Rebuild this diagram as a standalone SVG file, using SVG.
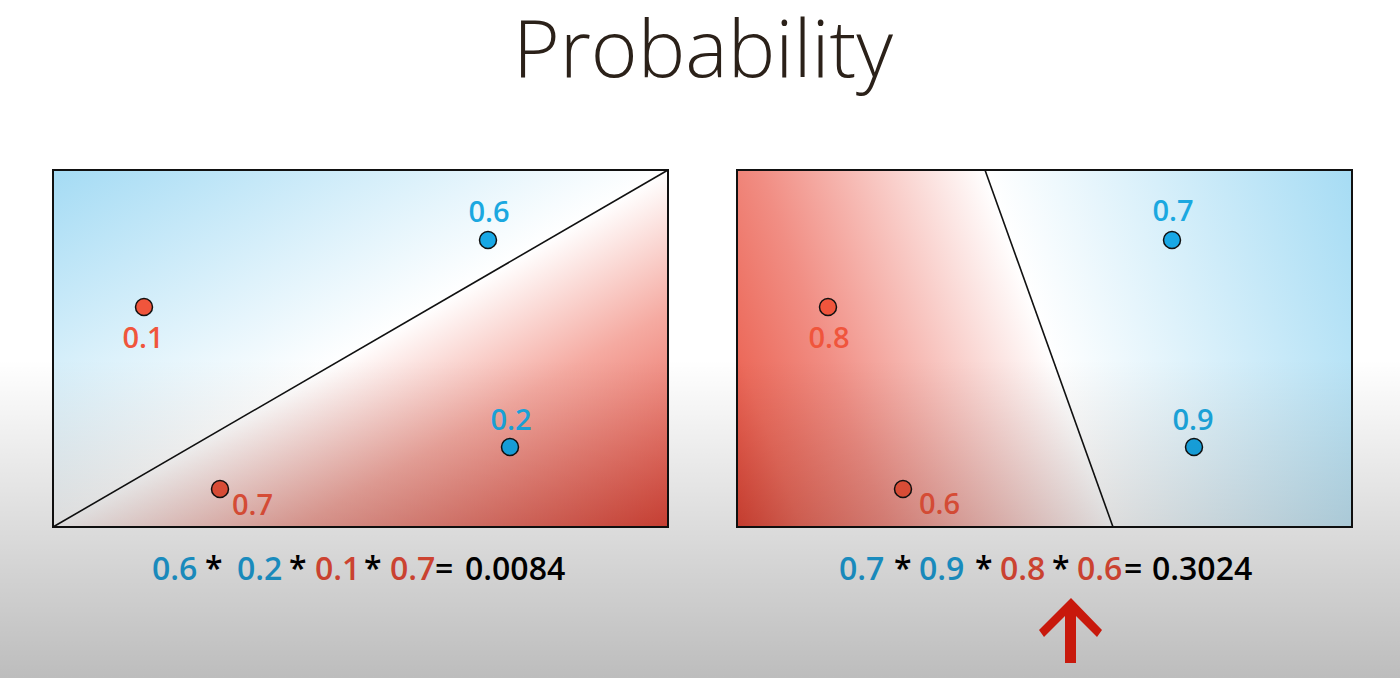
<svg xmlns="http://www.w3.org/2000/svg" width="1400" height="678" viewBox="0 0 1400 678">
<defs>
<linearGradient id="shade" x1="0" y1="0" x2="0" y2="678" gradientUnits="userSpaceOnUse">
<stop offset="0.53" stop-color="#000" stop-opacity="0"/>
<stop offset="1" stop-color="#000" stop-opacity="0.26"/>
</linearGradient>
<linearGradient id="lBlue" gradientUnits="userSpaceOnUse" x1="360.5" y1="348.5" x2="205.5" y2="81.5">
<stop offset="0" stop-color="#ffffff"/>
<stop offset="1" stop-color="#a4dbf4"/>
</linearGradient>
<linearGradient id="lRed" gradientUnits="userSpaceOnUse" x1="360.5" y1="348.5" x2="515.5" y2="615.5">
<stop offset="0" stop-color="#ffffff"/>
<stop offset="0.4" stop-color="#f5aaa1"/>
<stop offset="1" stop-color="#e4483a"/>
</linearGradient>
<linearGradient id="rRed" gradientUnits="userSpaceOnUse" x1="1048.5" y1="348.5" x2="716" y2="466.8">
<stop offset="0" stop-color="#ffffff"/>
<stop offset="0.6" stop-color="#f18e84"/>
<stop offset="0.83" stop-color="#ec6b5c"/>
<stop offset="1" stop-color="#e24636"/>
</linearGradient>
<linearGradient id="rBlue" gradientUnits="userSpaceOnUse" x1="1048.5" y1="348.5" x2="1374.5" y2="232.6">
<stop offset="0" stop-color="#ffffff"/>
<stop offset="1" stop-color="#a6dcf4"/>
</linearGradient>
<style>
.lbl{font-family:"Open Sans","Liberation Sans",sans-serif;font-size:29px;font-weight:600;}
.eq{font-family:"Open Sans","Liberation Sans",sans-serif;font-size:32px;font-weight:600;}
.b{fill:#1ba8e0;}
.r{fill:#f0553c;}
.eb{fill:#1ea6e2;}
.er{fill:#f4503a;}
.k{fill:#000;}
.dotb{fill:#18a8e6;stroke:#111;stroke-width:1.5;}
.dotr{fill:#f0553c;stroke:#111;stroke-width:1.5;}
.frame{fill:none;stroke:#111;stroke-width:2;}
.bound{stroke:#111;stroke-width:1.6;fill:none;}
</style>
</defs>
<rect width="1400" height="678" fill="#ffffff"/>
<text x="703" y="77" text-anchor="middle" font-family="'Open Sans','Liberation Sans',sans-serif" font-weight="300" font-size="80" fill="#2b2119">Probability</text>

<g id="left-panel">
<polygon points="53,170 668,170 53,527" fill="url(#lBlue)"/>
<polygon points="668,170 668,527 53,527" fill="url(#lRed)"/>
</g>
<g id="right-panel">
<polygon points="737,170 985,170 1113,527 737,527" fill="url(#rRed)"/>
<polygon points="985,170 1352,170 1352,527 1113,527" fill="url(#rBlue)"/>
</g>

<g id="boundaries">
<line class="bound" x1="53" y1="527" x2="668" y2="170"/>
<line class="bound" x1="985" y1="170" x2="1113" y2="527"/>
</g>

<g id="frames">
<rect class="frame" x="53" y="170" width="615" height="357"/>
<rect class="frame" x="737" y="170" width="615" height="357"/>
</g>

<g id="l-p06"><circle class="dotb" cx="488" cy="240" r="8.5"/><text class="lbl b" x="489" y="222" text-anchor="middle">0.6</text></g>
<g id="l-p01"><circle class="dotr" cx="144" cy="307" r="8.5"/><text class="lbl r" x="143" y="348" text-anchor="middle">0.1</text></g>
<g id="l-p02"><circle class="dotb" cx="510" cy="447" r="8.5"/><text class="lbl b" x="511" y="430" text-anchor="middle">0.2</text></g>
<g id="l-p07"><circle class="dotr" cx="220" cy="489" r="8.5"/><text class="lbl r" x="232" y="515">0.7</text></g>

<g id="r-p07"><circle class="dotb" cx="1172" cy="240" r="8.5"/><text class="lbl b" x="1173" y="221" text-anchor="middle">0.7</text></g>
<g id="r-p08"><circle class="dotr" cx="828" cy="307" r="8.5"/><text class="lbl r" x="829" y="348" text-anchor="middle">0.8</text></g>
<g id="r-p09"><circle class="dotb" cx="1194" cy="447" r="8.5"/><text class="lbl b" x="1193" y="430" text-anchor="middle">0.9</text></g>
<g id="r-p06"><circle class="dotr" cx="903" cy="489" r="8.5"/><text class="lbl r" x="919" y="514">0.6</text></g>

<g id="eq-left">
<text class="eq eb" x="152" y="580">0.6</text>
<text class="eq k" x="205" y="580">*</text>
<text class="eq eb" x="237" y="580">0.2</text>
<text class="eq k" x="289" y="580">*</text>
<text class="eq er" x="315" y="580">0.1</text>
<text class="eq k" x="364" y="580">*</text>
<text class="eq er" x="390" y="580">0.7</text>
<text class="eq k" x="435" y="580">=</text>
<text class="eq k" x="465" y="580">0.0084</text>
</g>
<g id="eq-right">
<text class="eq eb" x="839" y="580">0.7</text>
<text class="eq k" x="894" y="580">*</text>
<text class="eq eb" x="919" y="580">0.9</text>
<text class="eq k" x="975" y="580">*</text>
<text class="eq er" x="1000" y="580">0.8</text>
<text class="eq k" x="1052" y="580">*</text>
<text class="eq er" x="1077" y="580">0.6</text>
<text class="eq k" x="1124" y="580">=</text>
<text class="eq k" x="1152" y="580">0.3024</text>
</g>

<rect width="1400" height="678" fill="url(#shade)"/>

<g id="arrow">
<polygon points="1071,598 1102,630 1097,637 1076,616 1076,663 1065,663 1065,616 1044,637 1039,630" fill="#c8190c"/>
</g>
</svg>
